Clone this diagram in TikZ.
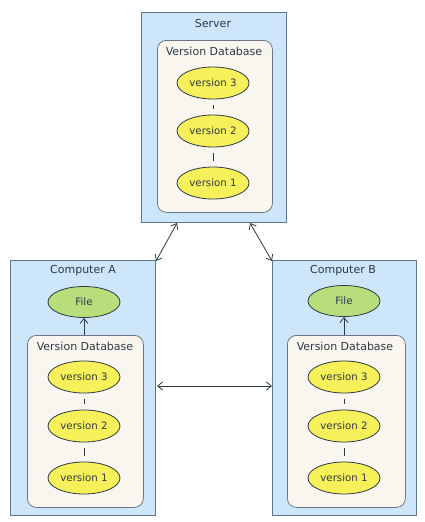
\documentclass[tikz,border=0pt]{standalone}
\usepackage{fontspec}
\setmainfont{DejaVu Sans}
\usetikzlibrary{shapes.geometric,arrows.meta}
\definecolor{boxfill}{HTML}{CDE6FA}
\definecolor{boxline}{HTML}{5A7891}
\definecolor{dbfill}{HTML}{F8F6EF}
\definecolor{dbline}{HTML}{6E7780}
\definecolor{verfill}{HTML}{F6F05A}
\definecolor{filefill}{HTML}{B8DE7C}
\definecolor{ink}{HTML}{2E3A44}
\tikzset{
  outerbox/.style={draw=boxline, fill=boxfill, line width=1pt},
  dbbox/.style={draw=dbline, fill=dbfill, rounded corners=9pt, line width=0.8pt},
  ver/.style={ellipse, draw=ink, fill=verfill, line width=0.8pt, minimum width=72pt, minimum height=32pt, inner sep=0pt, font=\fontsize{10.2}{12}\selectfont, text=ink},
  filenode/.style={ellipse, draw=ink, fill=filefill, line width=0.8pt, minimum width=72pt, minimum height=31pt, inner sep=0pt, font=\fontsize{10.2}{12}\selectfont, text=ink},
  title/.style={font=\fontsize{11}{13}\selectfont, text=ink},
  tick/.style={draw=ink, line width=0.6pt, shorten >=6pt, shorten <=6pt},
  dbl/.style={draw=ink, line width=0.8pt, {Straight Barb[length=5pt,width=8pt]}-{Straight Barb[length=5pt,width=8pt]}},
  uparr/.style={draw=ink, line width=0.8pt, -{Straight Barb[length=5pt,width=8pt]}}
}
\begin{document}
\begin{tikzpicture}[x=1pt,y=-1pt]
\useasboundingbox (0,0) rectangle (424,522);
% Server
\node[outerbox, minimum width=145pt, minimum height=210pt, anchor=north west, inner sep=0pt] (srv) at (141,12) {};
\node[title] (srvt) at (213,23) {Server};
\node[dbbox, minimum width=115pt, minimum height=172pt, anchor=north west, inner sep=0pt] (sdb) at (157,40) {};
\node[title] (sdbt) at (214,51) {Version Database};
\node[ver] (s3) at (213,83) {version 3};
\node[ver] (s2) at (213,131) {version 2};
\node[ver] (s1) at (213,183) {version 1};
\draw[tick] (s3) -- (s2);
\draw[tick] (s2) -- (s1);
% Computer A
\node[outerbox, minimum width=145pt, minimum height=255pt, anchor=north west, inner sep=0pt] (ca) at (10,260) {};
\node[title] (cat) at (83,271) {Computer A};
\node[filenode] (fa) at (84,302) {File};
\node[dbbox, minimum width=116pt, minimum height=172pt, anchor=north west, inner sep=0pt] (adb) at (27,335) {};
\node[title] (adbt) at (85,346) {Version Database};
\node[ver] (a3) at (84,377) {version 3};
\node[ver] (a2) at (84,426) {version 2};
\node[ver] (a1) at (84,478) {version 1};
\draw[tick] (a3) -- (a2);
\draw[tick] (a2) -- (a1);
\draw[uparr] (adb.north -| fa) -- (fa.south);
% Computer B
\node[outerbox, minimum width=144pt, minimum height=255pt, anchor=north west, inner sep=0pt] (cb) at (272,260) {};
\node[title] (cbt) at (343,271) {Computer B};
\node[filenode] (fb) at (344,301) {File};
\node[dbbox, minimum width=118pt, minimum height=172pt, anchor=north west, inner sep=0pt] (bdb) at (287,335) {};
\node[title] (bdbt) at (345,346) {Version Database};
\node[ver] (b3) at (344,377) {version 3};
\node[ver] (b2) at (344,426) {version 2};
\node[ver] (b1) at (344,478) {version 1};
\draw[tick] (b3) -- (b2);
\draw[tick] (b2) -- (b1);
\draw[uparr] (bdb.north -| fb) -- (fb.south);
% connections
\coordinate (sa) at (177,223);
\coordinate (as) at (156,261);
\coordinate (sb) at (250,223);
\coordinate (bs) at (272,261);
\coordinate (ab) at (157,386);
\coordinate (ba) at (272,386);
\draw[dbl] (sa) -- (as);
\draw[dbl] (sb) -- (bs);
\draw[dbl] (ab) -- (ba);
\end{tikzpicture}
\end{document}
